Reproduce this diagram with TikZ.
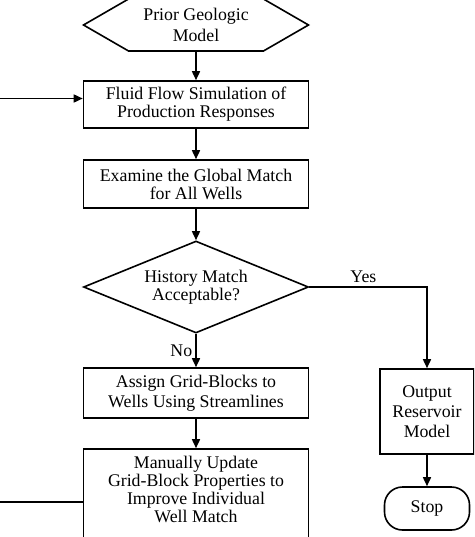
\documentclass[tikz,border=0pt]{standalone}
\usepackage{fontspec}
\setmainfont{Liberation Serif}
\usetikzlibrary{arrows.meta, shapes.geometric, shapes.symbols}

\begin{document}
\begin{tikzpicture}[x=1pt, y=-1pt,
  box/.style={draw, line width=1.6pt, minimum width=225pt, inner sep=0pt, align=center, font=\fontsize{17.8}{18}\selectfont},
  hexa/.style={box, signal, signal to=east and west, signal pointer angle=60},
  decision/.style={box, diamond, aspect=2.4},
  term/.style={box, rounded corners=18pt},
  arr/.style={-{Triangle[length=9pt, width=8pt]}, line width=1.6pt},
  lbl/.style={font=\fontsize{17.8}{18}\selectfont, inner sep=3pt}
]
  \def\colx{196}
  \def\sidex{427}

  \useasboundingbox (0,0) rectangle (474,537);
  \clip (0,0) rectangle (474,537);

  \node[hexa, minimum height=52pt, font=\fontsize{17.8}{21}\selectfont] (prior) at (\colx,25) {Prior Geologic\\Model};
  \node[box, minimum height=47pt] (sim) at (\colx,104.5) {Fluid Flow Simulation of\\Production Responses};
  \node[box, minimum height=48pt] (exam) at (\colx,184) {Examine the Global Match\\for All Wells};
  \node[decision, minimum width=225pt, minimum height=92pt] (accept) at (\colx,287) {History Match\\Acceptable?};
  \node[box, minimum height=50pt, font=\fontsize{17.8}{20}\selectfont] (assign) at (\colx,393) {Assign Grid-Blocks to\\Wells Using Streamlines};
  \node[box, minimum height=96pt, text depth=16pt] (update) at (\colx,497) {Manually Update\\Grid-Block Properties to\\Improve Individual\\Well Match};

  \node[box, minimum width=94pt, minimum height=85pt, font=\fontsize{17.8}{20}\selectfont] (output) at (\sidex,411.5) {Output\\Reservoir\\Model};
  \node[term, minimum width=85pt, minimum height=43pt] (stop) at (\sidex,508.5) {Stop};

  \draw[arr] (prior) -- (sim);
  \draw[arr] (sim) -- (exam);
  \draw[arr] (exam) -- (accept);
  \draw[arr] (accept) -- node[lbl, left]{No} (assign);
  \draw[arr] (assign) -- (update);
  \draw[arr] (accept.east) -| node[lbl, above, pos=0.23, yshift=1pt]{Yes} (output.north);
  \draw[arr] (output) -- (stop);

  % loop back for the next iteration
  \draw[arr] ([yshift=-5pt]update.west) -- ++(-110,0) |- ([yshift=6pt]sim.west);
\end{tikzpicture}
\end{document}
